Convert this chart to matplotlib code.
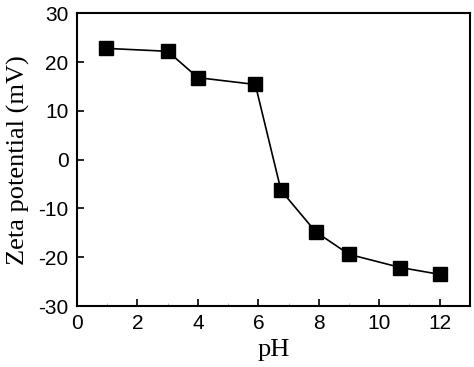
import numpy as np
import matplotlib
matplotlib.use('Agg')
from matplotlib import pyplot as plt
from matplotlib.ticker import MultipleLocator

plt.rcParams['axes.unicode_minus'] = False

# zeta potential vs pH
ph = [0.95, 3.0, 4.0, 5.9, 6.75, 7.9, 9.0, 10.7, 12.0]
zeta = [22.8, 22.2, 16.8, 15.4, -6.3, -14.8, -19.4, -22.1, -23.5]

fig = plt.figure(figsize=(4.74, 3.67), dpi=100)
ax = fig.add_axes([0.1624, 0.166, 0.829, 0.798])
ax.plot(ph, zeta, '-s', color='black', lw=1.2, ms=10)

ax.set_xlim(0, 13)
ax.set_ylim(-30, 30)
ax.xaxis.set_major_locator(MultipleLocator(2))
ax.xaxis.set_minor_locator(MultipleLocator(1))
ax.yaxis.set_major_locator(MultipleLocator(10))
ax.tick_params(which='both', direction='in', labelsize=15)
ax.tick_params(axis='y', pad=6)
ax.tick_params(axis='x', pad=6)
ax.tick_params(which='major', length=5, width=1.2)
ax.tick_params(which='minor', length=2, width=0.5, color='#999999')
for lab in ax.get_xticklabels() + ax.get_yticklabels():
    lab.set_family('Liberation Sans')
for s in ax.spines.values():
    s.set_linewidth(1.5)

ax.set_xlabel('pH', family='Liberation Serif', fontsize=19, labelpad=4)
ax.set_ylabel('Zeta potential (mV)', family='Liberation Serif', fontsize=19, labelpad=6)

fig.savefig('out.png', dpi=100)
